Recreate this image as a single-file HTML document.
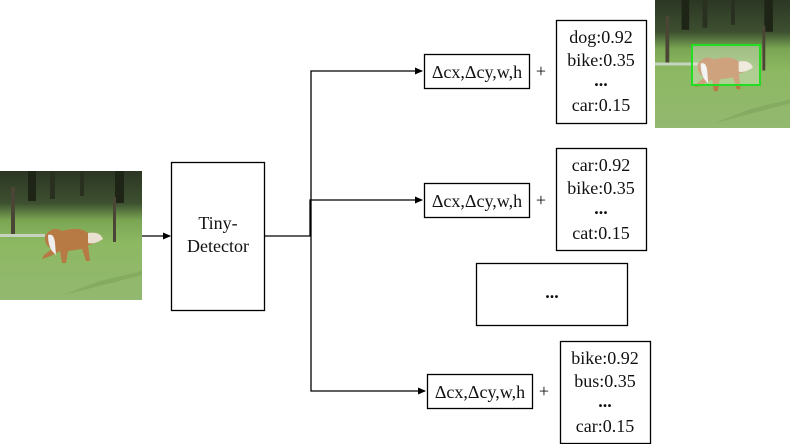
<!DOCTYPE html>
<html><head><style>
html,body{margin:0;padding:0;background:#fff;width:790px;height:444px;overflow:hidden}
svg text{font-family:"Liberation Serif",serif;fill:#111}
</style></head><body>
<svg width="790" height="444" viewBox="0 0 790 444" xmlns="http://www.w3.org/2000/svg">
<defs>
<linearGradient id="g" x1="0" y1="0" x2="0" y2="1">
<stop offset="0" stop-color="#2c3624"/><stop offset="0.25" stop-color="#3d5030"/>
<stop offset="0.38" stop-color="#7aa553"/><stop offset="0.55" stop-color="#8db862"/>
<stop offset="1" stop-color="#93b870"/></linearGradient>
<marker id="a" markerWidth="8" markerHeight="8" refX="7" refY="4" orient="auto" markerUnits="userSpaceOnUse"><path d="M0,0.5 L8,4 L0,7.5z" fill="#000"/></marker>
<symbol id="p" viewBox="0 0 142 129" preserveAspectRatio="none">
<rect width="142" height="129" fill="url(#g)"/>
<rect x="28" y="0" width="8" height="30" fill="#1e2416"/>
<rect x="115" y="0" width="9" height="32" fill="#1e2416"/>
<rect x="50" y="0" width="5" height="28" fill="#2a3020"/>
<rect x="80" y="0" width="4" height="25" fill="#2a3020"/>
<rect x="11" y="16" width="4" height="48" fill="#4a4535"/>
<rect x="113" y="26" width="3" height="45" fill="#4a4535"/>
<rect x="0" y="63" width="45" height="3" fill="#c8d2c0"/>
<path d="M100,110 L142,100 L142,104 L60,125z" fill="#7a9e58" opacity="0.5"/>
<path d="M45,65 Q52,54 62,60 Q80,55 88,62 Q100,60 103,68 Q92,74 88,74 L90,90 L86,90 L82,78 L68,80 L66,92 L62,92 L60,80 Q50,86 42,88 L44,84 L52,78 Q44,74 45,65z" fill="#b87a45"/>
<path d="M48,64 Q54,62 55,72 L56,84 L52,80 Q48,74 48,64z" fill="#eee"/>
<path d="M88,62 Q100,60 103,68 Q94,74 88,72z" fill="#e8e0d0"/>
</symbol>
</defs>
<use href="#p" x="0" y="171" width="142" height="129"/>
<use href="#p" x="655" y="0" width="135" height="128"/>
<rect x="692" y="45" width="68" height="40" fill="rgba(255,255,255,0.3)" stroke="#22dd22" stroke-width="2"/>

<g fill="none" stroke="#000" stroke-width="1.3">
<rect x="171.5" y="162.5" width="93" height="148"/>
<line x1="142" y1="236" x2="170" y2="236" marker-end="url(#a)"/>
<polyline points="265,236 311,236"/>
<polyline points="311,236 311,71 422,71" marker-end="url(#a)"/>
<polyline points="310,236 310,200 422,200" marker-end="url(#a)"/>
<polyline points="311,236 311,391 425,391" marker-end="url(#a)"/>
<rect x="424.5" y="54.5" width="105" height="34"/>
<rect x="424.5" y="183.5" width="105" height="34"/>
<rect x="427.5" y="374.5" width="105" height="34"/>
<rect x="556.5" y="20.5" width="90" height="103"/>
<rect x="556.5" y="148.5" width="90" height="102"/>
<rect x="560.5" y="341.5" width="90" height="102"/>
<rect x="476.5" y="263.5" width="151" height="62"/>
</g>
<g font-size="18" text-anchor="middle">
<text x="218" y="229">Tiny-</text><text x="218" y="252">Detector</text>
<text x="477" y="78">Δcx,Δcy,w,h</text>
<text x="477" y="207">Δcx,Δcy,w,h</text>
<text x="480" y="398">Δcx,Δcy,w,h</text>
<text x="541" y="77" fill="#555">+</text>
<text x="541" y="206" fill="#555">+</text>
<text x="544" y="397" fill="#555">+</text>
<text x="601" y="43">dog:0.92</text><text x="601" y="66">bike:0.35</text><text x="601" y="86" font-weight="bold">...</text><text x="601" y="111">car:0.15</text>
<text x="601" y="171">car:0.92</text><text x="601" y="194">bike:0.35</text><text x="601" y="214" font-weight="bold">...</text><text x="601" y="239">cat:0.15</text>
<text x="605" y="364">bike:0.92</text><text x="605" y="387">bus:0.35</text><text x="605" y="407" font-weight="bold">...</text><text x="605" y="432">car:0.15</text>
<text x="552" y="298" font-weight="bold">...</text>
</g>
</svg>
</body></html>
